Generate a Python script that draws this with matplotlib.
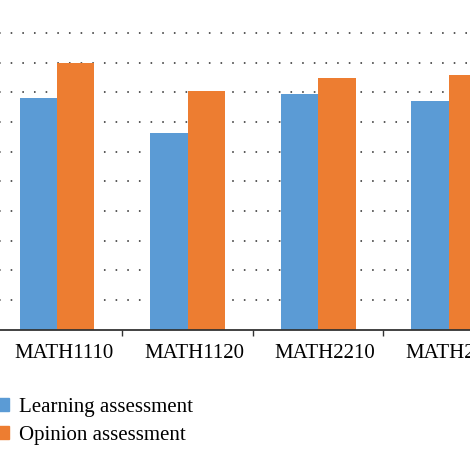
import numpy as np
import matplotlib
matplotlib.use("Agg")
import matplotlib.pyplot as plt
from matplotlib.patches import Patch

courses = ["MATH1110", "MATH1120", "MATH2210", "MATH2220"]
learning = [78.2, 66.4, 79.4, 77.1]
opinion = [89.8, 80.6, 84.7, 85.8]
series_names = ["Learning assessment", "Opinion assessment"]
colors = ["#5B9BD5", "#ED7D31"]

plt.rcParams["font.family"] = ["Liberation Serif", "DejaVu Serif"]

fig = plt.figure(figsize=(4.7, 4.7), dpi=100)
W = 470.0
# axes deliberately runs past the figure edges (the reference is a crop)
ax = fig.add_axes([-8.3 / W, (470 - 329.7) / W, 522.4 / W, (329.7 - 18.2) / W])

x = np.arange(len(courses))
bw = 0.286
ax.bar(x - bw / 2, learning, bw, color=colors[0], zorder=3)
ax.bar(x + bw / 2, opinion, bw, color=colors[1], zorder=3)

ax.set_xlim(-0.5, len(courses) - 0.5)
ax.set_ylim(0, 105)

ax.set_yticks(np.arange(10, 101, 10))
ax.yaxis.grid(True, color="#333333", linewidth=1.15, linestyle=(0, (1, 6.3)), zorder=0)
ax.tick_params(axis="y", left=False, labelleft=False)

for s in ["left", "right", "top"]:
    ax.spines[s].set_visible(False)
ax.spines["bottom"].set_color("#333333")
ax.spines["bottom"].set_linewidth(1.3)
ax.spines["bottom"].set_zorder(4)

ax.set_xticks(np.arange(len(courses) - 1) + 0.5)
ax.set_xticklabels([])
ax.tick_params(axis="x", which="major", direction="out", length=4, width=1, color="#333333")
ax.set_xticks(x + 0.05, minor=True)
ax.set_xticklabels(courses, minor=True, fontsize=15)
ax.tick_params(axis="x", which="minor", length=0, pad=10)

handles = [Patch(color=c) for c in colors]
fig.legend(handles, series_names, loc="upper left", bbox_to_anchor=(-2 / W, 1 - 398 / W),
           frameon=False, fontsize=15, handlelength=0.55, handleheight=0.55,
           handletextpad=0.45, labelspacing=0.42, borderpad=0, borderaxespad=0)

fig.savefig("out.png", dpi=100)
